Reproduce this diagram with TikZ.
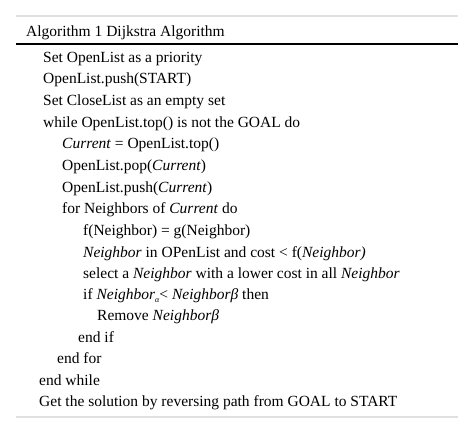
\documentclass[tikz,border=0pt]{standalone}
\usepackage{fontspec}
\setmainfont{Liberation Serif}
\begin{document}
\begin{tikzpicture}[x=1pt,y=-1pt,
  ln/.style={anchor=base west,inner sep=0pt,font=\fontsize{15.5}{17}\selectfont},
  grayrule/.style={line width=1.5pt,draw=black!12},
  blackrule/.style={line width=1.6pt,draw=black}]
\useasboundingbox (0,0) rectangle (474,434);
\draw[grayrule] (16,16) -- (458,16);
\draw[blackrule] (16,44) -- (458,44);
\draw[grayrule] (16,417) -- (458,417);
\node[ln] (t) at (26,36) {Algorithm 1 Dijkstra Algorithm};
\node[ln] (l1) at (43,62) {Set OpenList as a priority};
\node[ln] (l2) at (43,83) {OpenList.push(START)};
\node[ln] (l3) at (43,105) {Set CloseList as an empty set};
\node[ln] (l4) at (43,127) {while OpenList.top() is not the GOAL do};
\node[ln] (l5) at (62,148) {\textit{Current} = OpenList.top()};
\node[ln] (l6) at (62,170) {OpenList.pop(\textit{Current})};
\node[ln] (l7) at (62,192) {OpenList.push(\textit{Current})};
\node[ln] (l8) at (62,213) {for Neighbors of \textit{Current} do};
\node[ln] (l9) at (83,235) {f(Neighbor) = g(Neighbor)};
\node[ln] (l10) at (83,257) {\textit{Neighbor} in OPenList and cost < f(\textit{Neighbor)}};
\node[ln] (l11) at (83,278) {select a \textit{Neighbor} with a lower cost in all \textit{Neighbor}};
\node[ln] (l12) at (83,299) {if \textit{Neighbor}\raisebox{-0.45ex}{\fontsize{8}{9}\selectfont\textit{α}}< \textit{Neighborβ} then};
\node[ln] (l13) at (97,320) {Remove \textit{Neighborβ}};
\node[ln] (l14) at (78,342) {end if};
\node[ln] (l15) at (57,363) {end for};
\node[ln] (l16) at (39,385) {end while};
\node[ln] (l17) at (39,406) {Get the solution by reversing path from GOAL to START};
\end{tikzpicture}
\end{document}
